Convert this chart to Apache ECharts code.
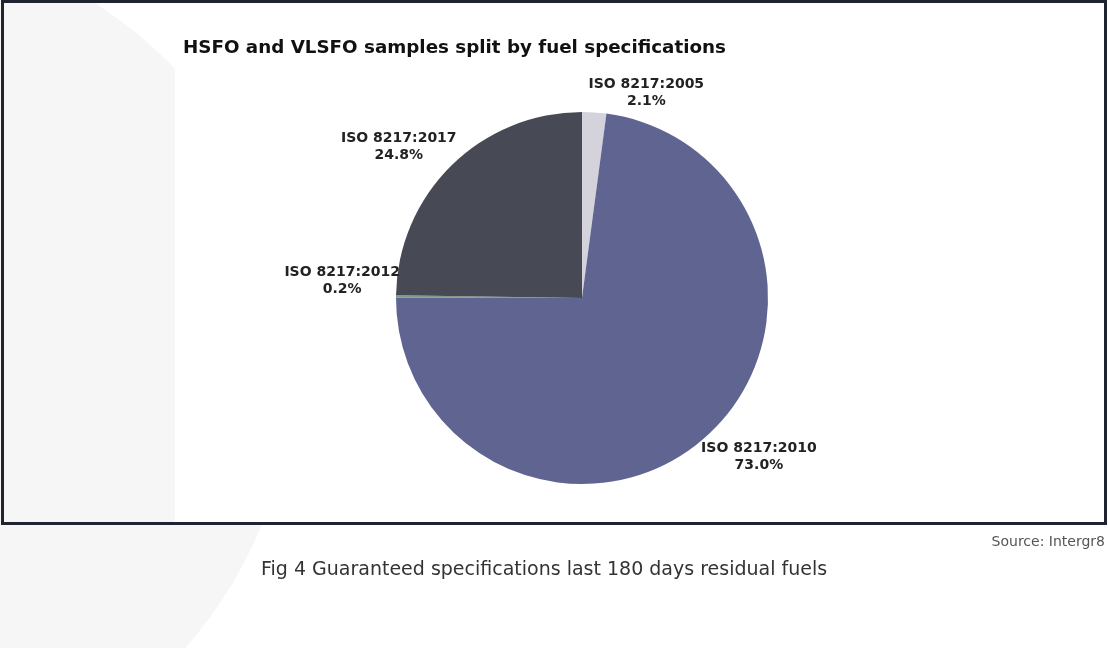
<!DOCTYPE html>
<html>
<head>
<meta charset="utf-8">
<script src="https://cdn.jsdelivr.net/npm/echarts@6/dist/echarts.min.js"></script>
<style>html,body{margin:0;padding:0;background:#fff}#main{width:1108px;height:648px}</style>
</head>
<body>
<div id="main"></div>
<script>
var names = ['ISO 8217:2005', 'ISO 8217:2010', 'ISO 8217:2012', 'ISO 8217:2017'];
var values = [2.1, 73.0, 0.2, 24.8];
var colors = ['#d4d2da', '#5f6590', '#7f9a86', '#474a54'];

var data1 = [];
for (var i = 0; i < names.length; i++) {
	data1.push({value: values[i], name: names[i], itemStyle: {color: colors[i]}});
}

var myChart = echarts.init(document.getElementById('main'));
var option = {
	animation: false,
	graphic: [
		{type: 'circle', shape: {cx: -135, cy: 364, r: 428}, style: {fill: '#f6f6f6'}, z: -10},
		{type: 'rect', shape: {x: 175, y: 2, width: 929, height: 520}, style: {fill: '#fff'}, z: -9},
		{type: 'rect', shape: {x: 2.5, y: 1.5, width: 1103, height: 522}, style: {fill: 'none', stroke: '#1f2430', lineWidth: 3}, z: 10},
		{type: 'text', right: 3, top: 535, style: {text: 'Source: Intergr8', font: '14px "DejaVu Sans"', fill: '#555'}},
		{type: 'text', left: 261, top: 561, style: {text: 'Fig 4 Guaranteed specifications last 180 days residual fuels', font: '19px "DejaVu Sans"', fill: '#333'}}
	],
	title: {
		text: 'HSFO and VLSFO samples split by fuel specifications',
		left: 178, top: 34,
		textStyle: {fontFamily: 'DejaVu Sans', fontSize: 18.3, fontWeight: 'bold', color: '#111'}
	},
	series: [{
		type: 'pie',
		center: [582, 298],
		radius: 186,
		startAngle: 90,
		clockwise: true,
		data: data1,
		label: {
			show: true,
			position: 'outside',
			formatter: function(p) { return p.name + '\n' + p.value.toFixed(1) + '%'; },
			fontFamily: 'DejaVu Sans', fontSize: 14, fontWeight: 600, color: '#222',
			lineHeight: 17
		},
		labelLine: {show: false, length: 4, length2: 0},
		labelLayout: function(p) {
			var r = p.labelRect;
			var cx = r.x + r.width / 2;
			var cy = r.y + r.height / 2;
			return {
				x: cx + (cx < 582 ? 13 : -11),
				y: cy + (cy < 298 ? -16 : 16),
				align: 'center',
				verticalAlign: 'middle'
			};
		},
		emphasis: {disabled: true}
	}]
};
myChart.setOption(option);
</script>
</body>
</html>
